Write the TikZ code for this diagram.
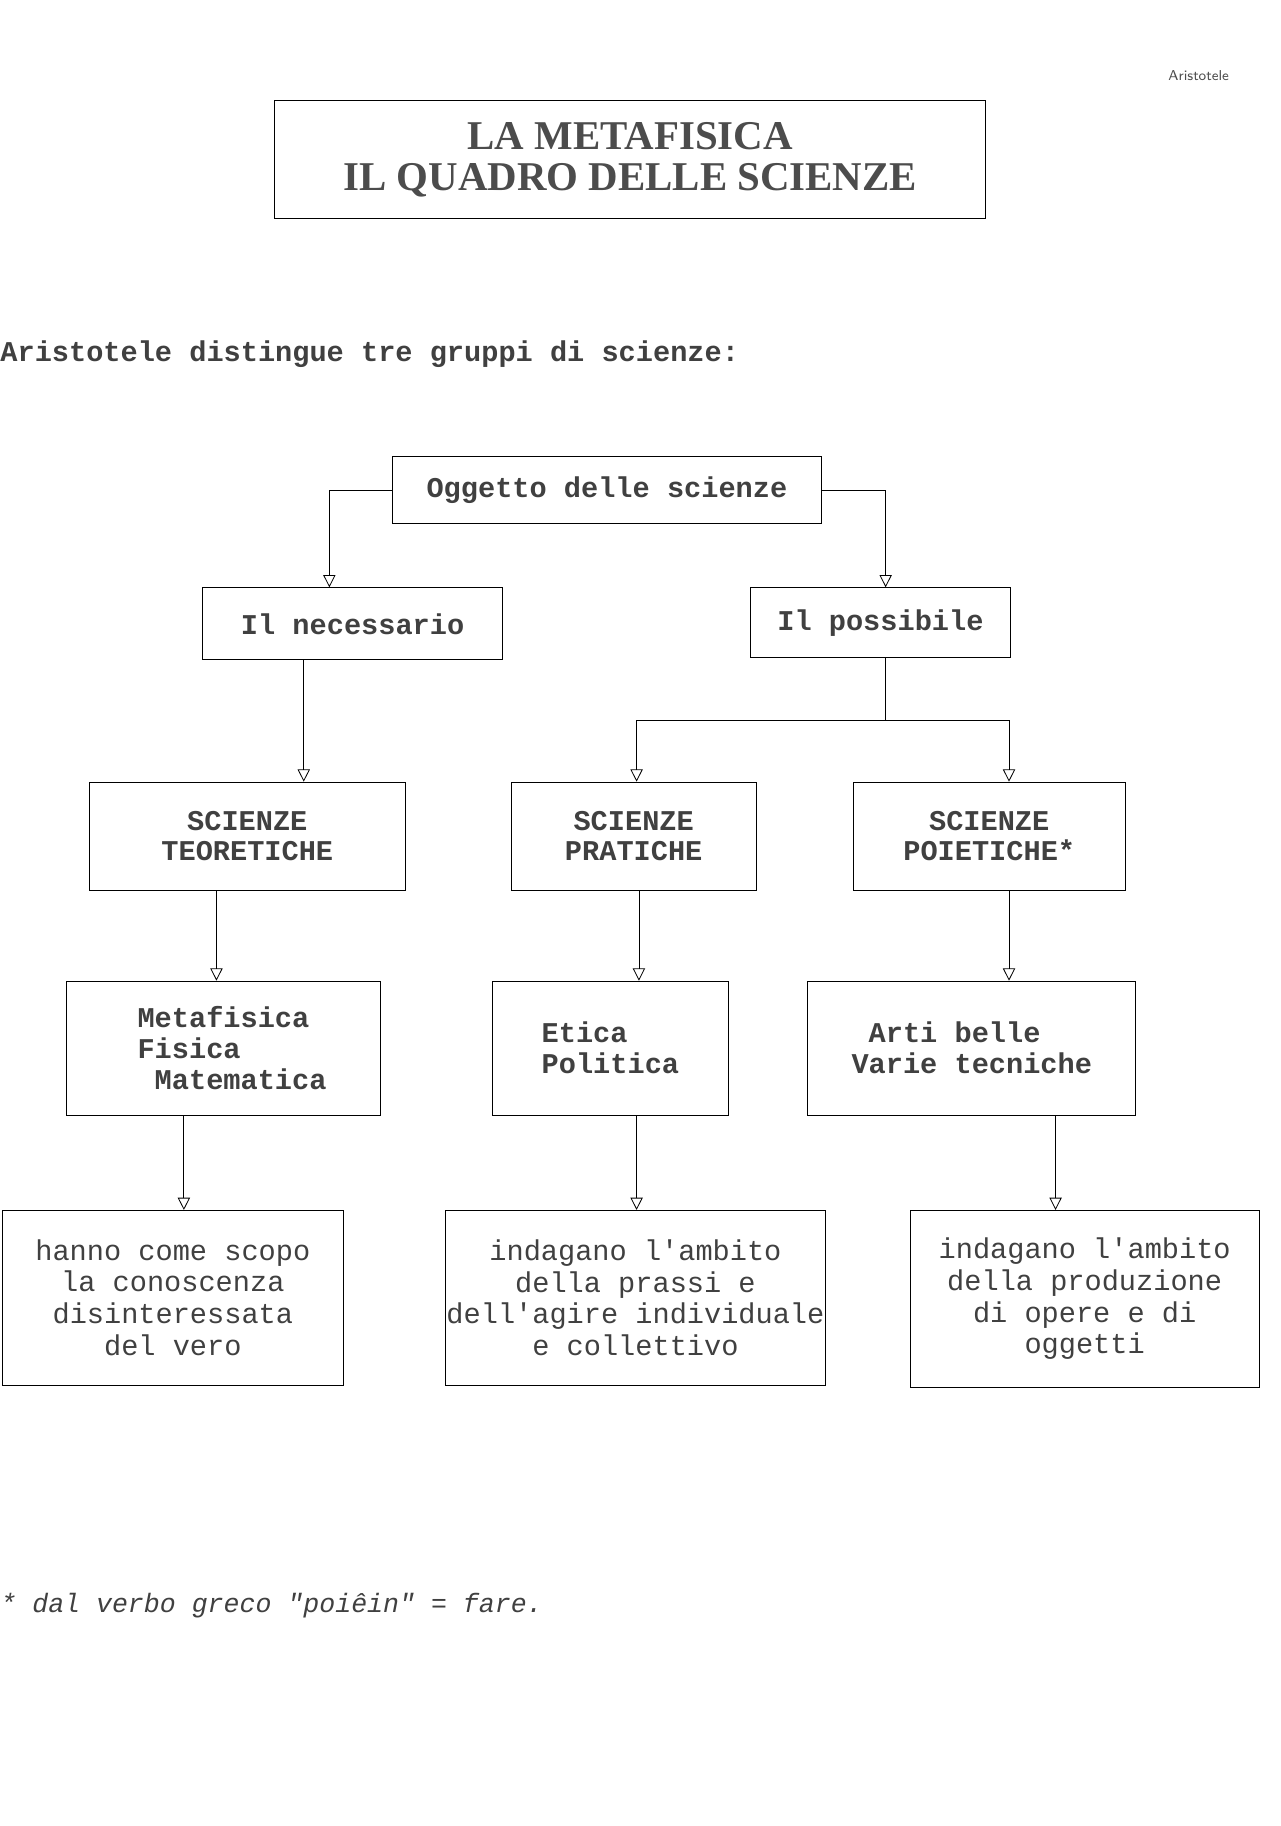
\documentclass[tikz,border=0pt]{standalone}
\usepackage{fontspec}
\setmainfont{Liberation Serif}
\newfontfamily\monob{Liberation Mono}
\usetikzlibrary{arrows.meta}
\begin{document}
\begin{tikzpicture}[x=0.02cm,y=-0.02cm,
    box/.style={draw, thin, inner sep=0pt, align=center, text=black!75,
        font=\monob\bfseries\fontsize{14}{15}\selectfont},
    txt/.style={draw, thin, inner sep=0pt, align=center, text=black!75,
        font=\monob\fontsize{14}{15.5}\selectfont},
    link/.style={thin, -{Triangle[open,length=6pt,width=6pt]}}]
    \useasboundingbox (0,0) rectangle (1100,1569);
    % header
    \node[font=\sffamily\scriptsize, text=black!70] (author) at (1030,65) {Aristotele};
    \node[draw, thin, minimum width=611*0.02cm, minimum height=102*0.02cm, align=center,
        text=black!70, font=\bfseries\fontsize{20}{20}\selectfont] (title) at (541.5,137)
        {LA METAFISICA\\IL QUADRO DELLE SCIENZE};
    \node[anchor=west, inner sep=0pt, text=black!75, font=\monob\bfseries\fontsize{14}{15}\selectfont]
        (intro) at (0,304) {Aristotele distingue tre gruppi di scienze:};
    % boxes
    \node[box, minimum width=369*0.02cm, minimum height=58*0.02cm] (oggetto) at (521.5,421) {Oggetto delle scienze};
    \node[box, minimum width=258*0.02cm, minimum height=62*0.02cm] (necessario) at (303,536) {Il necessario};
    \node[box, minimum width=223*0.02cm, minimum height=60*0.02cm] (possibile) at (756.5,535) {Il possibile};
    \node[box, minimum width=271*0.02cm, minimum height=93*0.02cm] (teoretiche) at (212.5,718.5) {SCIENZE\\TEORETICHE};
    \node[box, minimum width=211*0.02cm, minimum height=93*0.02cm] (pratiche) at (544.5,718.5) {SCIENZE\\PRATICHE};
    \node[box, minimum width=234*0.02cm, minimum height=93*0.02cm] (poietiche) at (850,718.5) {SCIENZE\\POIETICHE*};
    \node[box, minimum width=270*0.02cm, minimum height=115*0.02cm, align=left] (metafisica) at (192,900.5)
        {\ Metafisica\\\ Fisica\\\ \ Matematica};
    \node[box, minimum width=203*0.02cm, minimum height=115*0.02cm, align=left] (etica) at (524.5,900.5)
        {Etica\\Politica};
    \node[box, minimum width=282*0.02cm, minimum height=115*0.02cm, align=left] (arti) at (835,900.5)
        {\ Arti belle\\Varie tecniche};
    \node[txt, minimum width=293*0.02cm, minimum height=150*0.02cm] (scopo) at (148.5,1115)
        {hanno come scopo\\la conoscenza\\disinteressata\\del vero};
    \node[txt, minimum width=326*0.02cm, minimum height=150*0.02cm] (prassi) at (546,1115)
        {indagano l'ambito\\della prassi e\\dell'agire individuale\\e collettivo};
    \node[txt, minimum width=300*0.02cm, minimum height=152*0.02cm] (produzione) at (932,1116)
        {indagano l'ambito\\della produzione\\di opere e di\\oggetti};
    % connectors
    \draw[link] (oggetto.west) -| (necessario.north -| 283,0);
    \draw[link] (oggetto.east) -| (possibile.north -| 761,0);
    \draw[link] (necessario.south -| 261,0) -- (teoretiche.north -| 261,0);
    \coordinate (split) at (761,619);
    \draw (possibile.south -| split) -- (split);
    \draw[link] (split) -| (pratiche.north -| 547,0);
    \draw[link] (split) -| (poietiche.north -| 867,0);
    \draw[link] (teoretiche.south -| 186,0) -- (metafisica.north -| 186,0);
    \draw[link] (pratiche.south -| 549,0) -- (etica.north -| 549,0);
    \draw[link] (poietiche.south -| 867,0) -- (arti.north -| 867,0);
    \draw[link] (metafisica.south -| 158,0) -- (scopo.north -| 158,0);
    \draw[link] (etica.south -| 547,0) -- (prassi.north -| 547,0);
    \draw[link] (arti.south -| 907,0) -- (produzione.north -| 907,0);
    % footnote
    \node[anchor=west, inner sep=0pt, text=black!75, font=\monob\itshape\fontsize{13}{14}\selectfont]
        (note) at (0,1380) {* dal verbo greco "poiêin" = fare.};
\end{tikzpicture}
\end{document}
